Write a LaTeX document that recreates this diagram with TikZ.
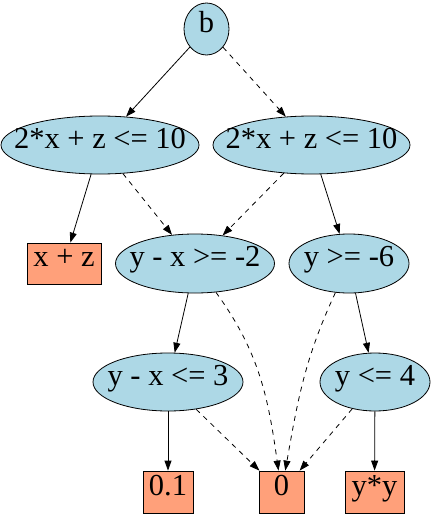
\documentclass[tikz,border=0pt]{standalone}
\usepackage{fontspec}
\setmainfont{Liberation Serif}
\usetikzlibrary{shapes.geometric,arrows.meta}
\definecolor{lightblue}{RGB}{173,216,230}
\definecolor{lightsalmon}{RGB}{255,160,122}
\newcommand{\ctr}[1]{\makebox[0pt]{#1}}

\begin{document}
\begin{tikzpicture}[x=1pt,y=-1pt,line width=0.8pt,
    font=\fontsize{30.5}{36}\selectfont,
    test/.style={ellipse,draw,fill=lightblue,inner sep=0pt,text height=0.66em,text depth=0pt},
    leaf/.style={rectangle,draw,fill=lightsalmon,inner sep=0pt,text height=0.66em,text depth=0pt},
    hi/.style={-{Triangle[length=10pt,width=7pt]}},
    lo/.style={hi,dash pattern=on 5pt off 5pt}]
      \useasboundingbox (0,0) rectangle (432,516);
      \draw
        (206.5,29) node[test,minimum width=45,minimum height=52] (0){\ctr{b}}
        (100,145) node[test,minimum width=198,minimum height=58] (1){\ctr{2*x + z <= 10}}
        (311.5,145) node[test,minimum width=197,minimum height=58] (2){\ctr{2*x + z <= 10}}
        (64,263.5) node[leaf,minimum width=74,minimum height=41] (3){\ctr{x + z}}
        (195,263.5) node[test,minimum width=159,minimum height=59] (4){\ctr{y - x >= -2}}
        (349,263.5) node[test,minimum width=120,minimum height=59] (5){\ctr{y >= -6}}
        (168,382) node[test,minimum width=150,minimum height=58] (6){\ctr{y - x <= 3}}
        (375,382) node[test,minimum width=110,minimum height=58] (7){\ctr{y <= 4}}
        (168,492) node[leaf,minimum width=50,minimum height=42] (8){\ctr{0.1}}
        (281.5,492) node[leaf,minimum width=45,minimum height=42] (9){\ctr{0}}
        (374.5,492) node[leaf,minimum width=59,minimum height=42] (10){\ctr{y*y}};
      \begin{scope}[hi]
        \draw (0) to (1);
        \draw[lo] (0) to (2);
        \draw (1) to (3);
        \draw[lo] (1) to (4);
        \draw[lo] (2) to (4);
        \draw (2) to (5);
        \draw (4) to (6);
        \draw[lo] (4) to[out=-54,in=98] (9);
        \draw[lo] (5) to[out=-115,in=80] (9);
        \draw (5) to (7);
        \draw (6) to (8);
        \draw[lo] (6) to (9);
        \draw[lo] (7) to (9);
        \draw (7) to (10);
      \end{scope}
    \end{tikzpicture}
\end{document}
